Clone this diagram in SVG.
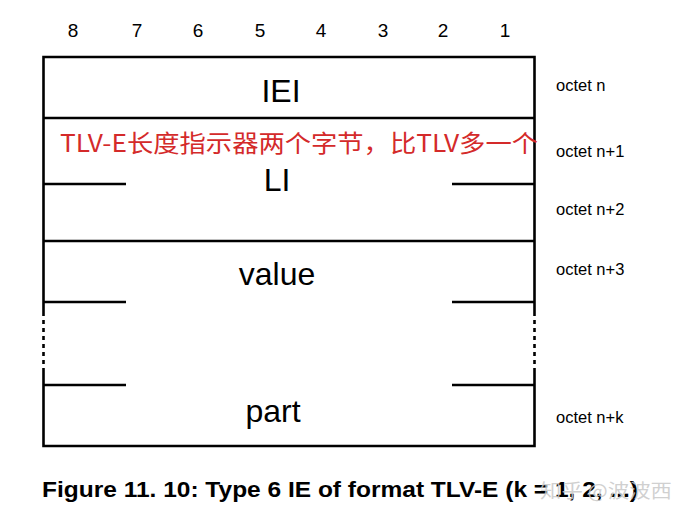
<svg xmlns="http://www.w3.org/2000/svg" width="688" height="518" viewBox="0 0 688 518">
<style>
.ln{stroke:#000;stroke-width:2.6;fill:none}
.dt{stroke:#000;stroke-width:2.6;fill:none;stroke-dasharray:4 4}
.bit{font-family:"Liberation Sans",Arial,sans-serif;font-size:19px;fill:#000;text-anchor:middle}
.fld{font-family:"Liberation Sans",Arial,sans-serif;font-size:32px;fill:#000;text-anchor:middle}
.oct{font-family:"Liberation Sans",Arial,sans-serif;font-size:16.5px;fill:#000}
</style>
<rect width="688" height="518" fill="#fff"/>
<g id="bits">
<text class="bit" x="73" y="37">8</text>
<text class="bit" x="137" y="37">7</text>
<text class="bit" x="198" y="37">6</text>
<text class="bit" x="260" y="37">5</text>
<text class="bit" x="321" y="37">4</text>
<text class="bit" x="383" y="37">3</text>
<text class="bit" x="443" y="37">2</text>
<text class="bit" x="505" y="37">1</text>
</g>
<g id="connectors">
<path class="ln" d="M43.5 312 V57 H534.5 V312"/>
<path class="dt" d="M43.5 312 V370 M534.5 312 V370"/>
<path class="ln" d="M43.5 370 V446 H534.5 V370"/>
<path class="ln" d="M43.5 118 H534.5 M43.5 241 H534.5"/>
<path class="ln" d="M43.5 184 H126 M452 184 H534.5"/>
<path class="ln" d="M43.5 302 H126 M452 302 H534.5"/>
<path class="ln" d="M43.5 385 H126 M452 385 H534.5"/>
</g>
<g id="iei"><text class="fld" x="281" y="102">IEI</text></g>
<g id="li"><text class="fld" x="277" y="191">LI</text></g>
<g id="value"><text class="fld" x="277" y="285">value</text></g>
<g id="part"><text class="fld" x="273" y="422">part</text></g>
<g id="octets">
<text class="oct" x="556" y="91">octet n</text>
<text class="oct" x="556" y="157">octet n+1</text>
<text class="oct" x="556" y="215">octet n+2</text>
<text class="oct" x="556" y="275">octet n+3</text>
<text class="oct" x="556" y="423">octet n+k</text>
</g>
<g id="note">
<text x="60" y="152" font-family="'Noto Sans CJK SC',sans-serif" font-size="24" fill="#d42a2a" textLength="478" lengthAdjust="spacingAndGlyphs">TLV-E长度指示器两个字节，比TLV多一个</text>
</g>
<g id="caption">
<text x="42" y="497" font-family="'Liberation Sans',Arial,sans-serif" font-size="22.5" font-weight="bold" fill="#000" textLength="596" lengthAdjust="spacingAndGlyphs">Figure 11. 10: Type 6 IE of format TLV-E (k = 1, 2, ...)</text>
<text x="540" y="498" font-family="'Noto Sans CJK SC',sans-serif" font-size="19" fill="#c8c8c8" fill-opacity="0.85" textLength="132" lengthAdjust="spacingAndGlyphs">知乎 @波波西</text>
</g>
</svg>
